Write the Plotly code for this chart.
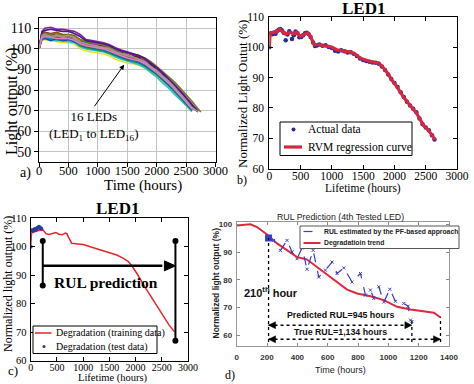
import plotly.graph_objects as go

# ---------------- data ----------------
# Panel a: 16 LEDs, light output (%) vs time (hours)
A_HOURS = [0, 50, 100, 200, 300, 400, 500, 600, 700, 800, 900, 1000, 1100, 1200, 1300,
           1400, 1500, 1600, 1700, 1800, 1900, 2000, 2100, 2200, 2300, 2400, 2500, 2600, 2700, 2750]
A_LED1 = [100, 104, 104.5, 104, 103.5, 103, 103, 102.5, 100, 99, 98.5, 98, 97.5, 96.5, 95, 94, 93,
          92.8, 92, 90.5, 88.5, 86.5, 84, 81.5, 78.5, 75.5, 72.5, 69.5]
A_LED2 = [100, 105, 105, 104.5, 104, 104, 103.5, 103, 101, 100, 99.5, 99, 98.5, 97.5, 96, 95, 94,
          93.2, 92.3, 90.8, 88.7, 86.2, 83.5, 81, 78, 75, 72.5, 69.6]
A_LED3 = [100, 105.5, 105.5, 105, 104.5, 104, 104.5, 103.5, 101.5, 100.5, 100, 99.5, 98.8, 97.8,
          96.5, 95.5, 94.5, 93.8, 93, 91.5, 89.5, 87.3, 84.8, 82.3, 79.3, 76.3, 73.2, 70]
A_LED4 = [100, 104.5, 105, 104, 105, 104, 104.5, 103.5, 102, 101, 100.5, 100, 99.5, 98.5, 97, 96,
          95, 94.5, 93.5, 92, 90, 87.8, 85.2, 82.7, 79.8, 76.8, 73.5, 70.2]
A_LED5 = [100, 106, 106.5, 105.5, 106, 105, 105.5, 104.5, 102.5, 101.5, 101, 100.5, 100, 99, 97.5,
          96.5, 95.5, 95, 94, 92.5, 90.5, 88.3, 85.8, 83.2, 80.3, 77.3, 74, 70.5]
A_LED6 = [100, 105, 106, 105, 105.5, 104.5, 105, 104, 102, 101.5, 100.8, 100.2, 99.6, 98.7, 97.3,
          96.3, 95.3, 94.7, 93.8, 92.3, 90.3, 88, 85.5, 83, 80, 77, 73.8, 70.3]
A_LED7 = [100, 106, 107, 106.5, 106, 106, 106, 105, 103, 102, 101.5, 101, 100.5, 99.5, 98, 97, 96,
          95.5, 94.8, 93.5, 91.5, 89.3, 86.8, 84.2, 81.2, 78.2, 75, 71.5, 69.5]
A_LED8 = [100, 106.5, 107, 106, 106.5, 105.5, 106, 105, 103.5, 102.5, 102, 101.2, 100.8, 99.8, 98.4,
          97.4, 96.5, 96, 95.2, 93.8, 91.8, 89.6, 87, 84.5, 81.5, 78.5, 75.2, 71.8, 69.5]
A_LED9 = [100, 107, 108, 107, 107.5, 106.5, 107, 106, 104, 103, 102.3, 101.8, 101.2, 100.2, 98.8,
          97.8, 96.8, 96.3, 95.5, 94.2, 92.2, 90, 87.5, 84.8, 81.8, 78.8, 75.5, 72, 69.4]
A_LED10 = [100, 106, 107.5, 107, 107, 106.5, 106.5, 105.5, 104, 103, 102.8, 102.2, 101.8, 101, 99.5,
           98.5, 97.5, 96.8, 96, 94.6, 92.5, 90.2, 87.6, 85, 82, 79, 75.8, 72.3, 69.5]
A_LED11 = [100, 107.5, 108, 107.5, 108, 107, 107, 106.5, 104.5, 103.5, 103, 102.5, 102, 101, 99.7,
           98.7, 97.7, 97.2, 96.4, 95, 93, 90.8, 88.3, 85.6, 82.6, 79.6, 76.3, 72.8, 69.6]
A_LED12 = [100, 107, 107.5, 107, 107.5, 106.5, 107, 106, 104.5, 103.5, 103, 102.5, 101.8, 100.8,
           99.5, 98.7, 98, 97.6, 96.8, 95.6, 93.8, 91.5, 89, 86.5, 84, 81, 78, 74.5, 71, 69.3]
A_LED13 = [100, 108.5, 110, 110.5, 109.5, 109.5, 109, 108.5, 107, 104.5, 104, 103.5, 103, 102,
           100.5, 99.5, 98.5, 97.8, 96.8, 95.3, 93.3, 91, 88.5, 85.8, 82.8, 79.8, 76.5, 73, 69.8]
A_LED14 = [100, 108, 109, 109.5, 109, 108.5, 108.5, 107.5, 106, 104, 103.5, 103, 102.5, 101.5, 100,
           99, 98.2, 97.5, 96.6, 95.2, 93.2, 90.8, 88.2, 85.5, 82.5, 79.3, 76, 72.5, 69.5]
A_LED15 = [100, 106.5, 107, 106, 106.5, 106, 106.5, 105.5, 103.5, 102.5, 101.8, 101.3, 100.8, 100,
           98.6, 97.6, 96.6, 96, 95, 93.6, 91.6, 89.4, 86.9, 84.4, 81.4, 78.3, 75, 71.5, 69.5]
A_LED16 = [100, 105.5, 106, 105.5, 105, 105, 105, 104.2, 102.5, 101.5, 101, 100.5, 100, 99, 97.6,
           96.6, 95.6, 95, 94.2, 92.8, 90.8, 88.6, 86, 83.5, 80.5, 77.5, 74.2, 70.8]
A_SERIES = [A_LED1, A_LED2, A_LED3, A_LED4, A_LED5, A_LED6, A_LED7, A_LED8,
            A_LED9, A_LED10, A_LED11, A_LED12, A_LED13, A_LED14, A_LED15, A_LED16]
A_COLORS = ["#e8e41c", "#20c4e8", "#1f9a3c", "#2244d0", "#1a1a80", "#108080", "#d02020", "#e08020",
            "#c020c0", "#111111", "#8b4513", "#7d7d1e", "#8a1fa8", "#4b1a8a", "#9a9a9a", "#e080c0"]
A_DASH = ["solid"] * 9 + ["dash"] + ["solid"] * 6
A_ARROW_TEXT = (920, 62.6)
A_ARROW_FROM = (925, 71.4)
A_ARROW_TO = (1448, 92.3)

# Panel b: LED1 actual data and RVM regression curve
B_RVM = [(0, 100.3), (15, 104.7), (50, 104.8), (100, 105.0), (165, 106.0), (210, 105.3), (255, 104.4),
         (300, 104.6), (335, 105.0), (388, 104.4), (431, 105.0), (495, 103.6), (550, 104.2),
         (600, 104.7), (654, 103.8), (700, 102.0), (718, 100.8), (787, 101.0), (850, 100.6),
         (947, 100.3), (1000, 100.0), (1080, 99.2), (1150, 99.0), (1200, 98.8), (1293, 98.4),
         (1350, 98.0), (1400, 97.4), (1452, 96.4), (1500, 96.0), (1612, 95.3), (1700, 95.0),
         (1745, 94.8), (1800, 93.8), (1851, 92.6), (1900, 91.2), (1957, 89.2), (2020, 87.6),
         (2090, 85.4), (2150, 83.4), (2223, 81.5), (2290, 79.8), (2356, 78.2), (2410, 76.2),
         (2463, 74.3), (2520, 73.2), (2569, 72.1), (2610, 70.8), (2649, 69.4)]
B_DOTS = [(0, 100.0), (25, 104.6), (50, 104.3), (75, 104.9), (100, 104.5), (125, 105.4), (150, 105.8),
          (175, 106.0), (200, 105.6), (230, 104.8), (262, 102.3), (290, 104.2), (320, 105.3),
          (363, 102.7), (390, 104.0), (420, 105.2), (450, 104.6), (480, 103.3), (510, 103.4),
          (540, 104.0), (570, 104.6), (600, 104.8), (630, 104.3), (660, 103.4), (700, 101.6),
          (730, 100.4), (760, 100.6), (800, 100.9), (850, 100.5), (900, 100.7), (950, 100.1),
          (1000, 99.8), (1050, 98.9), (1100, 98.6), (1150, 99.0), (1200, 98.7), (1250, 98.3),
          (1300, 98.4), (1350, 97.9), (1400, 97.1), (1450, 96.3), (1500, 95.8), (1550, 95.5),
          (1600, 95.2), (1650, 95.0), (1700, 94.9), (1750, 94.6), (1800, 93.7), (1850, 92.5),
          (1900, 91.0), (1950, 89.5), (2000, 88.2), (2050, 86.9), (2100, 85.2), (2150, 83.6),
          (2200, 82.0), (2250, 80.8), (2300, 79.7), (2350, 78.6), (2400, 76.5), (2450, 74.6),
          (2500, 73.5), (2550, 72.6), (2600, 71.0), (2640, 69.6)]

# Panel c: training / test data and RUL prediction marker
C_TRAIN = [(0, 100.0), (15, 104.8), (60, 105.2), (120, 105.6), (240, 105.9), (290, 104.6),
           (350, 104.3), (420, 104.7), (480, 105.0), (540, 104.4), (600, 104.2), (660, 104.8),
           (690, 104.6), (718, 103.5), (760, 101.6), (782, 101.2), (900, 101.0), (1004, 100.8),
           (1150, 99.9), (1323, 98.9), (1480, 98.0), (1641, 97.1), (1760, 96.0), (1863, 94.8),
           (1940, 93.0), (2023, 90.7), (2150, 86.7), (2277, 83.1), (2400, 79.4), (2531, 75.5),
           (2640, 72.5), (2740, 70.2)]
C_TEST = [(0, 100.0), (20, 105.8), (40, 105.6), (60, 106.0), (80, 106.2), (100, 105.9), (120, 106.5),
          (140, 106.8), (160, 107.0), (180, 106.6), (200, 106.4)]
C_RUL_START = 230
C_RUL_END = 2760
C_ARROW_Y = 93.3
C_LEFT_BAR = (86.4, 102.0)
C_RIGHT_BAR = (67.0, 102.0)

# Panel d: RUL prediction for the 4th tested LED
D_TREND = [(0, 99.6), (40, 99.9), (90, 100.0), (134, 99.0), (200, 96.3), (266, 93.1), (332, 90.6),
           (398, 88.2), (464, 87.3), (530, 84.6), (596, 81.7), (662, 79.2), (728, 76.5), (794, 75.1),
           (882, 74.1), (970, 72.7), (1058, 70.3), (1146, 69.3), (1234, 68.8), (1300, 68.2),
           (1333, 66.9), (1344, 66.5)]
D_PF = [(207, 95.1), (244, 94.2), (288, 90.6), (332, 94.2), (365, 90.0), (398, 87.6), (431, 91.5),
        (464, 83.8), (504, 90.6), (541, 81.0), (585, 83.5), (629, 86.4), (662, 82.3), (706, 84.3),
        (761, 79.2), (816, 82.3), (849, 74.5), (882, 76.3), (904, 73.3), (937, 77.5), (970, 72.0),
        (1010, 76.6), (1047, 72.3), (1102, 71.5), (1130, 70.5), (1146, 65.5), (1155, 65.0)]
D_START_HOUR = 210
D_START_VALUE = 95.1
D_PRED_END = 1155      # 210 + 945
D_TRUE_END = 1344      # 210 + 1134
D_PRED_END_VALUE = 65.0
D_TRUE_END_VALUE = 66.5
D_PRED_ARROW_Y = 63.7
D_TRUE_ARROW_Y = 58.6
D_BOTTOM = 57.6

# ---------------- styling helpers ----------------
W, H = 474, 384
SERIF = "Liberation Serif, Times New Roman, serif"
SANS = "Liberation Sans, Arial, sans-serif"
B_RED, B_BLUE = "#d8263c", "#2b2b98"
C_RED, C_BLUE = "#e8262a", "#2e3aa0"
D_RED, D_BLUE = "#e0283c", "#3c3cc8"


def px(x):
    return x / W


def py(y):
    return 1 - y / H


def xy(pairs):
    return [p[0] for p in pairs], [p[1] for p in pairs]


fig = go.Figure()

# ---- panel a
for vals, col, dash in zip(A_SERIES, A_COLORS, A_DASH):
    fig.add_trace(go.Scatter(x=A_HOURS[:len(vals)], y=vals, mode="lines",
                             line=dict(color=col, width=1.6, dash=dash),
                             xaxis="x", yaxis="y", showlegend=False, hoverinfo="skip"))

# ---- panel b
bx, by = xy(B_DOTS)
fig.add_trace(go.Scatter(x=bx, y=by, mode="markers", name="Actual data",
                         marker=dict(color=B_BLUE, size=4.5),
                         xaxis="x2", yaxis="y2", showlegend=False))
bx, by = xy(B_RVM)
fig.add_trace(go.Scatter(x=bx, y=by, mode="lines", name="RVM regression curve",
                         line=dict(color=B_RED, width=3.2),
                         xaxis="x2", yaxis="y2", showlegend=False))

# ---- panel c
cx, cy = xy(C_TRAIN)
fig.add_trace(go.Scatter(x=cx, y=cy, mode="lines", name="Degradation (training data)",
                         line=dict(color=C_RED, width=1.5),
                         xaxis="x3", yaxis="y3", showlegend=False))
cx, cy = xy(C_TEST)
fig.add_trace(go.Scatter(x=cx, y=cy, mode="markers", name="Degradation (test data)",
                         marker=dict(color=C_BLUE, size=4),
                         xaxis="x3", yaxis="y3", showlegend=False))
fig.add_trace(go.Scatter(x=[C_RUL_START, C_RUL_START, C_RUL_END, C_RUL_END],
                         y=[C_LEFT_BAR[0], C_LEFT_BAR[1], C_RIGHT_BAR[0], C_RIGHT_BAR[1]],
                         mode="markers", marker=dict(color="black", size=6),
                         xaxis="x3", yaxis="y3", showlegend=False))

# ---- panel d
dx, dy = xy(D_TREND)
fig.add_trace(go.Scatter(x=dx, y=dy, mode="lines", name="Degradatioin trend",
                         line=dict(color=D_RED, width=2),
                         xaxis="x4", yaxis="y4", showlegend=False))
dx, dy = xy(D_PF)
fig.add_trace(go.Scatter(x=dx, y=dy, mode="lines+markers",
                         name="RUL estimated by the PF-based approach",
                         line=dict(color=D_BLUE, width=1.2, dash="dash"),
                         marker=dict(symbol="x-thin", size=3, color=D_BLUE,
                                     line=dict(width=1, color=D_BLUE)),
                         xaxis="x4", yaxis="y4", showlegend=False))
fig.add_trace(go.Scatter(x=[D_START_HOUR], y=[D_START_VALUE], mode="markers",
                         marker=dict(symbol="square", size=7, color=D_BLUE),
                         xaxis="x4", yaxis="y4", showlegend=False))


# ---------------- axes ----------------
def serif_axis(domain, rng, tickvals, size, anchor, ticks="inside", grid=False, standoff=2):
    return dict(domain=domain, range=rng, tickvals=tickvals, ticks=ticks, ticklen=4,
                tickcolor="black", showline=True, linecolor="black", linewidth=1,
                mirror="ticks" if ticks == "inside" else True, anchor=anchor,
                showgrid=grid, gridcolor="#c4c4c4", gridwidth=1, zeroline=False,
                tickfont=dict(family=SERIF, size=size, color="black"), tickangle=0,
                ticklabelstandoff=standoff, fixedrange=True, automargin=False)


def sans_axis(domain, rng, tickvals, anchor, standoff):
    return dict(domain=domain, range=rng, tickvals=tickvals, anchor=anchor,
                ticks="inside", ticklen=3, tickcolor="#888", showline=True, linecolor="#999",
                mirror="ticks", showgrid=False, zeroline=False, fixedrange=True,
                tickfont=dict(family=SANS, size=8, color="#333", weight="bold"), tickangle=0,
                ticklabelstandoff=standoff, automargin=False)


fig.update_layout(
    width=W, height=H, margin=dict(l=0, r=0, t=0, b=0),
    paper_bgcolor="white", plot_bgcolor="white", showlegend=False,
    xaxis=serif_axis([px(39), px(215.5)], [0, 3000], list(range(0, 3001, 500)), 12.5, "y",
                     ticks="outside", grid=True, standoff=-7),
    yaxis=serif_axis([py(162), py(18)], [45, 115], list(range(50, 111, 10)), 14, "x",
                     ticks="outside", grid=True, standoff=0),
    xaxis2=serif_axis([px(269.3), px(457)], [0, 3000], list(range(0, 3001, 500)), 11.5, "y2",
                      standoff=-3),
    yaxis2=serif_axis([py(168.5), py(17)], [60, 110], list(range(60, 111, 10)), 11.5, "x2",
                      standoff=2),
    xaxis3=serif_axis([px(30.7), px(188)], [0, 3000], list(range(0, 3001, 500)), 10, "y3",
                      standoff=-3),
    yaxis3=serif_axis([py(360.7), py(218.3)], [60, 110], list(range(60, 111, 10)), 10.5, "x3",
                      standoff=1),
    xaxis4=sans_axis([px(236.7), px(449)], [0, 1400], list(range(0, 1401, 200)), "y4", 4),
    yaxis4=sans_axis([py(345.7), py(221.5)], [56.3, 101.0], list(range(60, 101, 10)), "x4", 2),
)

# ---------------- annotations ----------------
ann = []


def text(x, y, s, size, family=SERIF, angle=0, color="black", anchor="center"):
    ann.append(dict(x=px(x), y=py(y), xref="paper", yref="paper", text=s, showarrow=False,
                    textangle=angle, xanchor=anchor, yanchor="middle",
                    font=dict(family=family, size=size, color=color)))


# panel a labels
text(12, 101, "Light output (%)", 16, angle=-90)
text(142.5, 185.5, "Time (hours)", 15)
text(25, 173, "a)", 14)
ann.append(dict(x=A_ARROW_TEXT[0], y=A_ARROW_TEXT[1], xref="x", yref="y",
                text="16 LEDs<br>(LED<sub>1</sub> to LED<sub>16</sub>)", showarrow=False,
                font=dict(family=SERIF, size=13, color="black")))
ann.append(dict(x=A_ARROW_TO[0], y=A_ARROW_TO[1], ax=A_ARROW_FROM[0], ay=A_ARROW_FROM[1],
                xref="x", yref="y", axref="x", ayref="y", text="", showarrow=True,
                arrowhead=2, arrowsize=1, arrowwidth=1, arrowcolor="black"))

# panel b labels
text(363, 8, "<b>LED1</b>", 17)
text(243, 94, "Normalized Light Outut (%)", 13, angle=-90)
text(363, 188.5, "Lifetime (hours)", 11.5)
text(242, 180, "b)", 12)

# panel c labels
text(117, 208, "<b>LED1</b>", 17)
text(8, 284, "Normalized light output (%)", 12, angle=-90)
text(112.5, 378, "Lifetime (hours)", 10.5)
text(13, 370, "c)", 13)
ann.append(dict(x=(C_RUL_START + C_RUL_END) / 2 - 60, y=87.6, xref="x3", yref="y3",
                text="<b>RUL prediction</b>", showarrow=False,
                font=dict(family=SERIF, size=15.5, color="black")))

# panel d labels
text(340, 216.5, "RUL Prediction (4th Tested LED)", 8.8, family=SANS, color="#222")
text(215.5, 283, "<b>Normalized light output (%)</b>", 8.5, family=SANS, angle=-90, color="#222")
text(340, 370, "Time (hours)", 9, family=SANS, color="#222")
text(230, 375, "d)", 12)
ann.append(dict(x=225, y=75.6, xref="x4", yref="y4", text="<b>210<sup>th</sup> hour</b>",
                showarrow=False, font=dict(family=SANS, size=11, color="#111")))
ann.append(dict(x=683, y=67.3, xref="x4", yref="y4", text="<b>Predicted RUL=945 hours</b>",
                showarrow=False, font=dict(family=SANS, size=8.8, color="#111")))
ann.append(dict(x=683, y=61.3, xref="x4", yref="y4", text="<b>True RUL=1,134 hours</b>",
                showarrow=False, font=dict(family=SANS, size=8.8, color="#111")))

# legends (drawn by hand so that their boxes match the reference)
text(305.5, 129.5, "Actual data", 11.5, anchor="left")
text(305.5, 147, "RVM regression curve", 11.5, anchor="left")
text(53.5, 333, "Degradation (training data)", 10, anchor="left")
text(53.5, 346.5, "Degradation (test data)", 10, anchor="left")
text(322, 231.5, "<b>RUL estimated by the PF-based approach</b>", 6.8, family=SANS,
     color="#222", anchor="left")
text(322, 243, "<b>Degradatioin trend</b>", 6.8, family=SANS, color="#222", anchor="left")
fig.update_layout(annotations=ann)

# ---------------- shapes ----------------
shapes = []


def pbox(x0, y0, x1, y1, color="black"):
    shapes.append(dict(type="rect", xref="paper", yref="paper", x0=px(x0), x1=px(x1),
                       y0=py(y1), y1=py(y0), line=dict(color=color, width=1),
                       fillcolor="white", layer="above"))


def pline(x0, x1, y, color, width, dash="solid"):
    shapes.append(dict(type="line", xref="paper", yref="paper", x0=px(x0), x1=px(x1),
                       y0=py(y), y1=py(y), line=dict(color=color, width=width, dash=dash),
                       layer="above"))


def pdot(x, y, r, color):
    shapes.append(dict(type="circle", xref="paper", yref="paper", x0=px(x - r), x1=px(x + r),
                       y0=py(y + r), y1=py(y - r), fillcolor=color, line=dict(width=0),
                       layer="above"))


# legend b
pbox(280, 122, 412, 155.5)
pdot(293.5, 129.5, 2, B_BLUE)
pline(284, 302, 147, B_RED, 3.2)
# legend c
pbox(33, 326, 157, 353.5)
pline(35, 51.5, 333, C_RED, 1.5)
pdot(44, 346.5, 1.6, C_BLUE)
# legend d
pbox(300, 226, 459, 248.5, color="#555")
pline(303.5, 320.5, 231.5, D_BLUE, 1.2, dash="dash")
pline(303.5, 320.5, 243, D_RED, 2)

# panel c: RUL bars and arrow
shapes.append(dict(type="line", xref="x3", yref="y3", x0=C_RUL_START, x1=C_RUL_START,
                   y0=C_LEFT_BAR[0], y1=C_LEFT_BAR[1], line=dict(color="black", width=2)))
shapes.append(dict(type="line", xref="x3", yref="y3", x0=C_RUL_END, x1=C_RUL_END,
                   y0=C_RIGHT_BAR[0], y1=C_RIGHT_BAR[1], line=dict(color="black", width=2)))
shapes.append(dict(type="line", xref="x3", yref="y3", x0=C_RUL_START, x1=C_RUL_END - 250,
                   y0=C_ARROW_Y, y1=C_ARROW_Y, line=dict(color="black", width=2.5)))
shapes.append(dict(type="path", xref="x3", yref="y3", xsizemode="pixel", ysizemode="pixel",
                   xanchor=C_RUL_END, yanchor=C_ARROW_Y, path="M 0 0 L -11 5 L -11 -5 Z",
                   fillcolor="black", line=dict(color="black", width=1)))

# panel d: dotted guides and double arrows
for xv, ytop in [(D_START_HOUR, D_START_VALUE), (D_PRED_END, D_PRED_END_VALUE),
                 (D_TRUE_END, D_TRUE_END_VALUE)]:
    shapes.append(dict(type="line", xref="x4", yref="y4", x0=xv, x1=xv, y0=D_BOTTOM, y1=ytop,
                       line=dict(color="black", width=1.3, dash="dot")))
for yv, xe in [(D_PRED_ARROW_Y, D_PRED_END), (D_TRUE_ARROW_Y, D_TRUE_END)]:
    shapes.append(dict(type="line", xref="x4", yref="y4", x0=D_START_HOUR, x1=xe, y0=yv, y1=yv,
                       line=dict(color="black", width=1.5, dash="dot")))
    shapes.append(dict(type="path", xref="x4", yref="y4", xsizemode="pixel", ysizemode="pixel",
                       xanchor=D_START_HOUR, yanchor=yv, path="M 0 0 L 7 3.5 L 7 -3.5 Z",
                       fillcolor="black", line=dict(color="black", width=0.5)))
    shapes.append(dict(type="path", xref="x4", yref="y4", xsizemode="pixel", ysizemode="pixel",
                       xanchor=xe, yanchor=yv, path="M 0 0 L -7 3.5 L -7 -3.5 Z",
                       fillcolor="black", line=dict(color="black", width=0.5)))
fig.update_layout(shapes=shapes)

fig.write_html("out.html", config={"displayModeBar": False},
               post_script="document.body.style.margin='0';document.body.style.overflow='hidden';")
